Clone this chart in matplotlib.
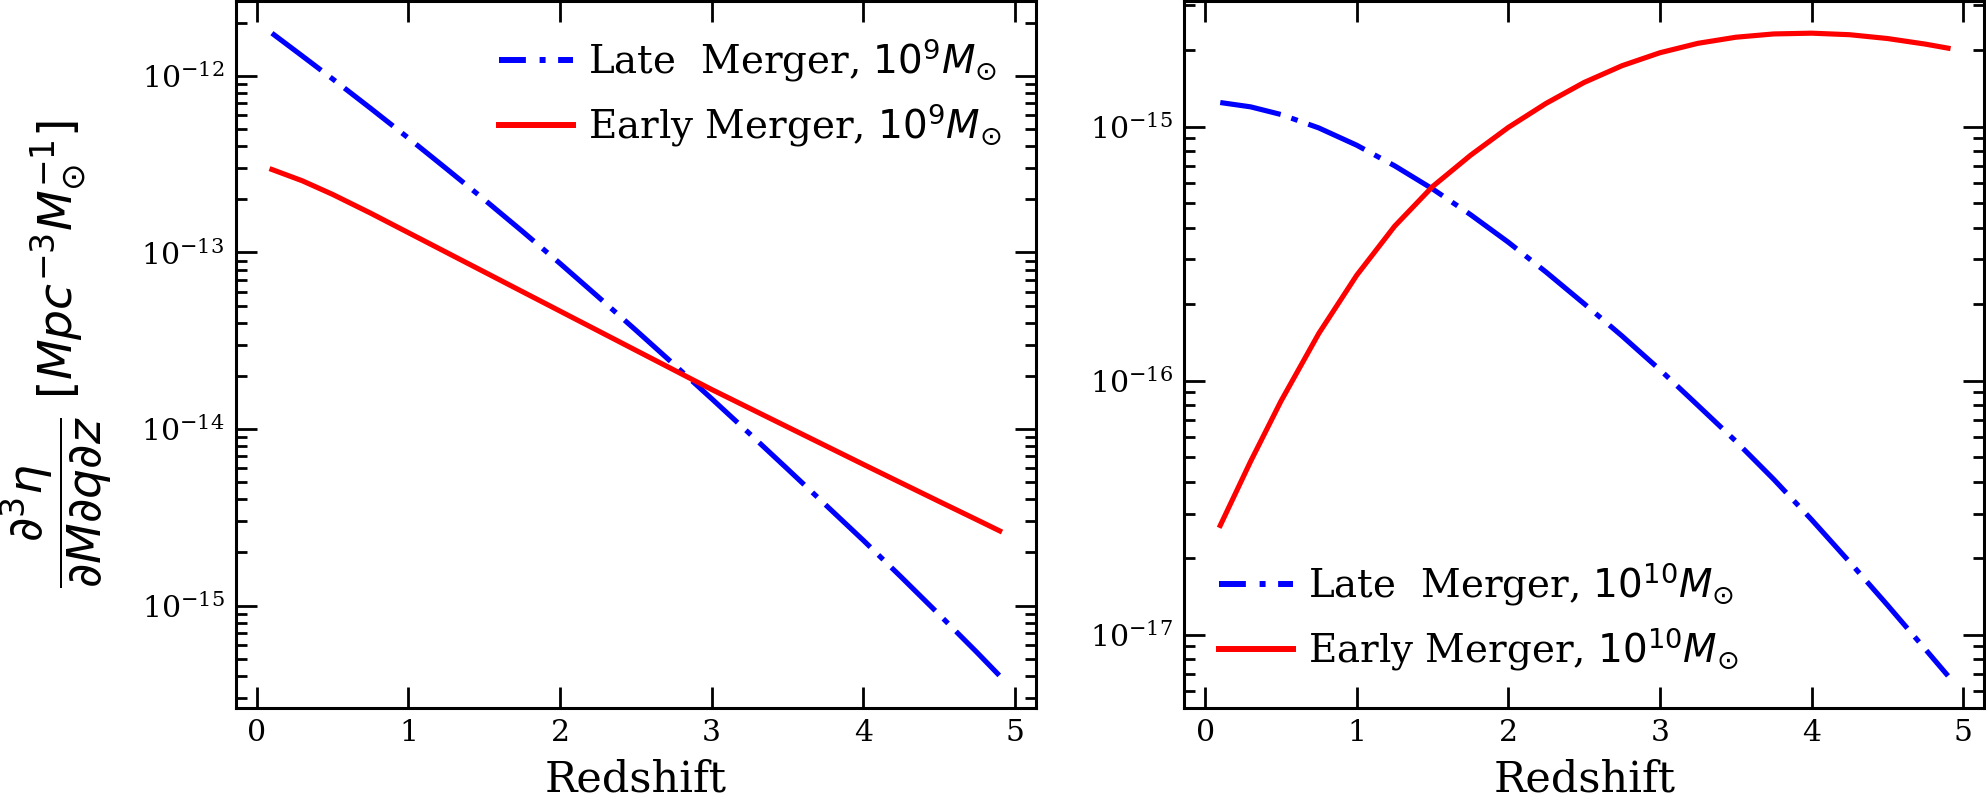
import numpy as np
import matplotlib
matplotlib.use("Agg")
import matplotlib.pyplot as plt

plt.rcParams['font.family'] = ['DejaVu Serif']
plt.rcParams['mathtext.fontset'] = 'dejavusans'

# Redshift grid (values at these redshifts)
redshift = [0.1, 0.3, 0.5, 0.75, 1.0, 1.25, 1.5, 1.75, 2.0, 2.25, 2.5,
            2.75, 3.0, 3.25, 3.5, 3.75, 4.0, 4.25, 4.5, 4.75, 4.9]

# log10 of d^3 eta / dM dq dz  [Mpc^-3 Msun^-1]
late_1e9_log10 = [-11.758, -11.887, -12.017, -12.183, -12.352, -12.525, -12.700,
                  -12.879, -13.062, -13.250, -13.440, -13.633, -13.828, -14.026,
                  -14.226, -14.428, -14.630, -14.838, -15.050, -15.265, -15.398]
early_1e9_log10 = [-12.530, -12.594, -12.671, -12.777, -12.888, -12.999, -13.110,
                   -13.221, -13.332, -13.443, -13.554, -13.665, -13.776, -13.882,
                   -13.988, -14.094, -14.200, -14.305, -14.410, -14.514, -14.577]
late_1e10_log10 = [-14.905, -14.922, -14.952, -15.005, -15.073, -15.154, -15.245,
                   -15.346, -15.455, -15.573, -15.697, -15.824, -15.957, -16.097,
                   -16.238, -16.388, -16.547, -16.713, -16.883, -17.057, -17.162]
early_1e10_log10 = [-16.570, -16.318, -16.081, -15.814, -15.585, -15.392, -15.236,
                    -15.113, -15.003, -14.908, -14.826, -14.760, -14.709, -14.672,
                    -14.648, -14.635, -14.632, -14.638, -14.653, -14.675, -14.691]

labels_left = ['Late  Merger, $10^9M_{\\odot}$', 'Early Merger, $10^9M_{\\odot}$']
labels_right = ['Late  Merger, $10^{10}M_{\\odot}$', 'Early Merger, $10^{10}M_{\\odot}$']
xticks = [0, 1, 2, 3, 4, 5]

z = np.array(redshift)
fig = plt.figure(figsize=(19.86, 8.01), dpi=100)
ax1 = fig.add_axes([0.1186, 0.1161, 0.4031, 0.8826])
ax2 = fig.add_axes([0.5961, 0.1161, 0.4031, 0.8826])

LW = 3.7
DASH = (0, (12, 2.2, 1.3, 2.2))
panels = [
    (ax1, late_1e9_log10, early_1e9_log10, labels_left, 'upper right'),
    (ax2, late_1e10_log10, early_1e10_log10, labels_right, 'lower left'),
]
for ax, late, early, labs, loc in panels:
    ax.plot(z, 10 ** np.array(late), color='#0000ff', lw=LW, linestyle=DASH, label=labs[0])
    ax.plot(z, 10 ** np.array(early), color='#ff0000', lw=LW, linestyle='-', label=labs[1])
    ax.set_yscale('log')
    ax.set_xticks(xticks)
    ax.tick_params(which='both', direction='in', top=True, right=True,
                   labelsize=21.5, width=2.0, pad=8)
    ax.tick_params(which='major', length=15)
    ax.tick_params(which='minor', length=8)
    ax.tick_params(axis='x', which='minor', bottom=False, top=False)
    for sp in ax.spines.values():
        sp.set_linewidth(2.2)
    ax.set_xlabel('Redshift', fontsize=31, labelpad=8)
    leg = ax.legend(loc=loc, frameon=False, fontsize=28, handlelength=1.9,
                    handletextpad=0.38, labelspacing=0.45)
    ll = leg.get_lines()[0]
    ll.set_linestyle((0, (4.5, 2.3, 1.0, 2.1)))
    for l in leg.get_lines():
        l.set_linewidth(4.3)

ax1.set_ylabel(r'$\dfrac{\partial^3\eta}{\partial M\partial q\partial z}$ $[Mpc^{-3}M_{\odot}^{-1}]$',
               fontsize=34)
ax1.yaxis.set_label_coords(-0.152, 0.5)

fig.savefig('out.png', dpi=100)
